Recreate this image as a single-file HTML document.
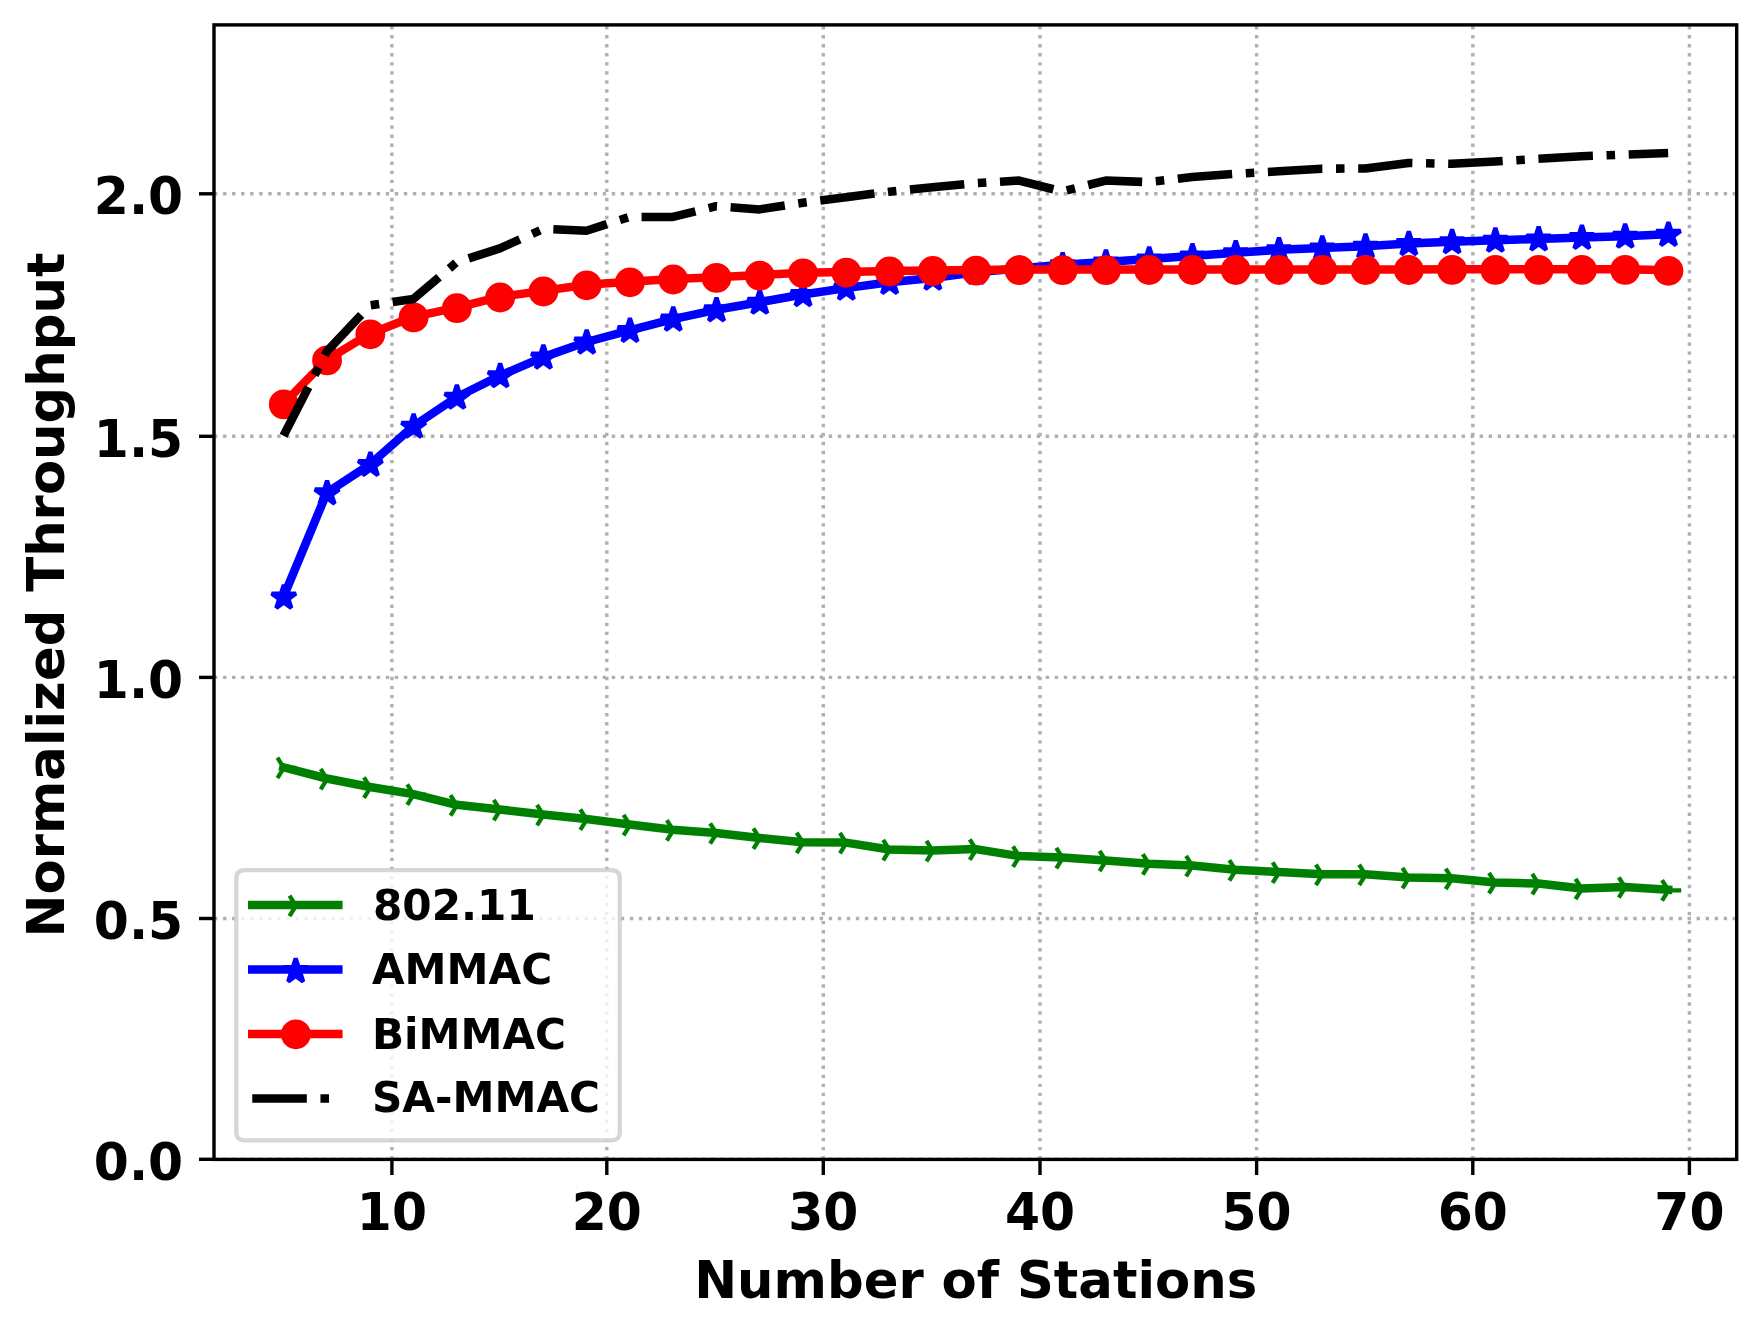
<!DOCTYPE html>
<html lang="en"><head><meta charset="utf-8"><title>Normalized Throughput vs Number of Stations</title>
<style>html,body{margin:0;padding:0;background:#fff}body{width:1761px;height:1317px;overflow:hidden}svg{display:block;filter:blur(0.45px)}text{font-family:"DejaVu Sans", "Liberation Sans", sans-serif;font-weight:bold;fill:#000}</style></head><body>
<svg width="1761" height="1317" viewBox="0 0 1761 1317">
<rect width="1761" height="1317" fill="#fff"/>
<g stroke="#b0b0b0" stroke-width="3.41" stroke-dasharray="3.41 5.63" fill="none">
<path d="M391.9 1159.4V24.9"/>
<path d="M606.8 1159.4V24.9"/>
<path d="M823.3 1159.4V24.9"/>
<path d="M1040 1159.4V24.9"/>
<path d="M1256.6 1159.4V24.9"/>
<path d="M1472.8 1159.4V24.9"/>
<path d="M1689.4 1159.4V24.9"/>
<path d="M214 193.8H1736.7"/>
<path d="M214 436.3H1736.7"/>
<path d="M214 677.4H1736.7"/>
<path d="M214 918.5H1736.7"/>
<path d="M214 1159.3H1736.7"/>
</g>
<g fill="none" stroke-linejoin="round">
<polyline points="283.5,767.3 326.77,778.5 370.04,787 413.31,794.1 456.58,804.8 499.85,809.5 543.12,814.5 586.39,819.1 629.66,824.5 672.93,829.7 716.2,832.9 759.47,838 802.74,842.3 846.01,842.6 889.28,849.5 932.55,850.45 975.82,849.1 1019.09,856.1 1062.36,857.6 1105.63,860.4 1148.9,863.8 1192.17,865.5 1235.44,869.7 1278.71,872 1321.98,874.2 1365.25,874.2 1408.52,877.6 1451.79,878.3 1495.06,882.6 1538.33,883.5 1581.6,888.4 1624.87,886.9 1668.14,889.7" stroke="#008000" stroke-width="8.53" stroke-linecap="square"/>
<path stroke="#008000" stroke-width="4.26" stroke-linecap="butt" d="M283.8 767.9L296.59 767.9M283.8 767.9L277.41 757.67M283.8 767.9L277.41 778.13M327.07 779.1L339.86 779.1M327.07 779.1L320.68 768.87M327.07 779.1L320.68 789.33M370.34 787.6L383.13 787.6M370.34 787.6L363.95 777.37M370.34 787.6L363.95 797.83M413.61 794.7L426.4 794.7M413.61 794.7L407.22 784.47M413.61 794.7L407.22 804.93M456.88 805.4L469.67 805.4M456.88 805.4L450.49 795.17M456.88 805.4L450.49 815.63M500.15 810.1L512.94 810.1M500.15 810.1L493.76 799.87M500.15 810.1L493.76 820.33M543.42 815.1L556.21 815.1M543.42 815.1L537.03 804.87M543.42 815.1L537.03 825.33M586.69 819.7L599.48 819.7M586.69 819.7L580.3 809.47M586.69 819.7L580.3 829.93M629.96 825.1L642.75 825.1M629.96 825.1L623.57 814.87M629.96 825.1L623.57 835.33M673.23 830.3L686.02 830.3M673.23 830.3L666.84 820.07M673.23 830.3L666.84 840.53M716.5 833.5L729.29 833.5M716.5 833.5L710.11 823.27M716.5 833.5L710.11 843.73M759.77 838.6L772.56 838.6M759.77 838.6L753.38 828.37M759.77 838.6L753.38 848.83M803.04 842.9L815.83 842.9M803.04 842.9L796.65 832.67M803.04 842.9L796.65 853.13M846.31 843.2L859.1 843.2M846.31 843.2L839.92 832.97M846.31 843.2L839.92 853.43M889.58 850.1L902.37 850.1M889.58 850.1L883.19 839.87M889.58 850.1L883.19 860.33M932.85 851.05L945.64 851.05M932.85 851.05L926.46 840.82M932.85 851.05L926.46 861.28M976.12 849.7L988.91 849.7M976.12 849.7L969.73 839.47M976.12 849.7L969.73 859.93M1019.39 856.7L1032.18 856.7M1019.39 856.7L1013 846.47M1019.39 856.7L1013 866.93M1062.66 858.2L1075.45 858.2M1062.66 858.2L1056.27 847.97M1062.66 858.2L1056.27 868.43M1105.93 861L1118.72 861M1105.93 861L1099.54 850.77M1105.93 861L1099.54 871.23M1149.2 864.4L1161.99 864.4M1149.2 864.4L1142.81 854.17M1149.2 864.4L1142.81 874.63M1192.47 866.1L1205.26 866.1M1192.47 866.1L1186.08 855.87M1192.47 866.1L1186.08 876.33M1235.74 870.3L1248.53 870.3M1235.74 870.3L1229.35 860.07M1235.74 870.3L1229.35 880.53M1279.01 872.6L1291.8 872.6M1279.01 872.6L1272.62 862.37M1279.01 872.6L1272.62 882.83M1322.28 874.8L1335.07 874.8M1322.28 874.8L1315.89 864.57M1322.28 874.8L1315.89 885.03M1365.55 874.8L1378.34 874.8M1365.55 874.8L1359.16 864.57M1365.55 874.8L1359.16 885.03M1408.82 878.2L1421.61 878.2M1408.82 878.2L1402.43 867.97M1408.82 878.2L1402.43 888.43M1452.09 878.9L1464.88 878.9M1452.09 878.9L1445.7 868.67M1452.09 878.9L1445.7 889.13M1495.36 883.2L1508.15 883.2M1495.36 883.2L1488.97 872.97M1495.36 883.2L1488.97 893.43M1538.63 884.1L1551.42 884.1M1538.63 884.1L1532.24 873.87M1538.63 884.1L1532.24 894.33M1581.9 889L1594.69 889M1581.9 889L1575.51 878.77M1581.9 889L1575.51 899.23M1625.17 887.5L1637.96 887.5M1625.17 887.5L1618.78 877.27M1625.17 887.5L1618.78 897.73M1668.44 890.3L1681.23 890.3M1668.44 890.3L1662.05 880.07M1668.44 890.3L1662.05 900.53"/>
<polyline points="283.5,597 326.77,492.8 370.04,464.4 413.31,426.2 456.58,397.2 499.85,375.7 543.12,357.1 586.39,342 629.66,330.4 672.93,319.1 716.2,309.8 759.47,302.2 802.74,294.5 846.01,288.1 889.28,282.3 932.55,278.1 975.82,272.3 1019.09,268.4 1062.36,264.8 1105.63,262 1148.9,259.1 1192.17,255.9 1235.44,252.8 1278.71,249.8 1321.98,248.1 1365.25,246.2 1408.52,243.5 1451.79,241.7 1495.06,240.2 1538.33,238.9 1581.6,237.4 1624.87,236.2 1668.14,234.3" stroke="#0000ff" stroke-width="8.53" stroke-linecap="square"/>
<g fill="#0000ff" stroke="#0000ff" stroke-width="4.26" stroke-linejoin="bevel">
<polygon points="283.8,584.81 286.67,593.65 295.96,593.65 288.45,599.11 291.32,607.95 283.8,602.48 276.28,607.95 279.15,599.11 271.64,593.65 280.93,593.65"/>
<polygon points="327.07,480.61 329.94,489.45 339.23,489.45 331.72,494.91 334.59,503.75 327.07,498.28 319.55,503.75 322.42,494.91 314.91,489.45 324.2,489.45"/>
<polygon points="370.34,452.21 373.21,461.05 382.5,461.05 374.99,466.51 377.86,475.35 370.34,469.88 362.82,475.35 365.69,466.51 358.18,461.05 367.47,461.05"/>
<polygon points="413.61,414.01 416.48,422.85 425.77,422.85 418.26,428.31 421.13,437.15 413.61,431.68 406.09,437.15 408.96,428.31 401.45,422.85 410.74,422.85"/>
<polygon points="456.88,385.01 459.75,393.85 469.04,393.85 461.53,399.31 464.4,408.15 456.88,402.68 449.36,408.15 452.23,399.31 444.72,393.85 454.01,393.85"/>
<polygon points="500.15,363.51 503.02,372.35 512.31,372.35 504.8,377.81 507.67,386.65 500.15,381.18 492.63,386.65 495.5,377.81 487.99,372.35 497.28,372.35"/>
<polygon points="543.42,344.91 546.29,353.75 555.58,353.75 548.07,359.21 550.94,368.05 543.42,362.58 535.9,368.05 538.77,359.21 531.26,353.75 540.55,353.75"/>
<polygon points="586.69,329.81 589.56,338.65 598.85,338.65 591.34,344.11 594.21,352.95 586.69,347.48 579.17,352.95 582.04,344.11 574.53,338.65 583.82,338.65"/>
<polygon points="629.96,318.21 632.83,327.05 642.12,327.05 634.61,332.51 637.48,341.35 629.96,335.88 622.44,341.35 625.31,332.51 617.8,327.05 627.09,327.05"/>
<polygon points="673.23,306.91 676.1,315.75 685.39,315.75 677.88,321.21 680.75,330.05 673.23,324.58 665.71,330.05 668.58,321.21 661.07,315.75 670.36,315.75"/>
<polygon points="716.5,297.61 719.37,306.45 728.66,306.45 721.15,311.91 724.02,320.75 716.5,315.28 708.98,320.75 711.85,311.91 704.34,306.45 713.63,306.45"/>
<polygon points="759.77,290.01 762.64,298.85 771.93,298.85 764.42,304.31 767.29,313.15 759.77,307.68 752.25,313.15 755.12,304.31 747.61,298.85 756.9,298.85"/>
<polygon points="803.04,282.31 805.91,291.15 815.2,291.15 807.69,296.61 810.56,305.45 803.04,299.98 795.52,305.45 798.39,296.61 790.88,291.15 800.17,291.15"/>
<polygon points="846.31,275.91 849.18,284.75 858.47,284.75 850.96,290.21 853.83,299.05 846.31,293.58 838.79,299.05 841.66,290.21 834.15,284.75 843.44,284.75"/>
<polygon points="889.58,270.11 892.45,278.95 901.74,278.95 894.23,284.41 897.1,293.25 889.58,287.78 882.06,293.25 884.93,284.41 877.42,278.95 886.71,278.95"/>
<polygon points="932.85,265.91 935.72,274.75 945.01,274.75 937.5,280.21 940.37,289.05 932.85,283.58 925.33,289.05 928.2,280.21 920.69,274.75 929.98,274.75"/>
<polygon points="976.12,260.11 978.99,268.95 988.28,268.95 980.77,274.41 983.64,283.25 976.12,277.78 968.6,283.25 971.47,274.41 963.96,268.95 973.25,268.95"/>
<polygon points="1019.39,256.21 1022.26,265.05 1031.55,265.05 1024.04,270.51 1026.91,279.35 1019.39,273.88 1011.87,279.35 1014.74,270.51 1007.23,265.05 1016.52,265.05"/>
<polygon points="1062.66,252.61 1065.53,261.45 1074.82,261.45 1067.31,266.91 1070.18,275.75 1062.66,270.28 1055.14,275.75 1058.01,266.91 1050.5,261.45 1059.79,261.45"/>
<polygon points="1105.93,249.81 1108.8,258.65 1118.09,258.65 1110.58,264.11 1113.45,272.95 1105.93,267.48 1098.41,272.95 1101.28,264.11 1093.77,258.65 1103.06,258.65"/>
<polygon points="1149.2,246.91 1152.07,255.75 1161.36,255.75 1153.85,261.21 1156.72,270.05 1149.2,264.58 1141.68,270.05 1144.55,261.21 1137.04,255.75 1146.33,255.75"/>
<polygon points="1192.47,243.71 1195.34,252.55 1204.63,252.55 1197.12,258.01 1199.99,266.85 1192.47,261.38 1184.95,266.85 1187.82,258.01 1180.31,252.55 1189.6,252.55"/>
<polygon points="1235.74,240.61 1238.61,249.45 1247.9,249.45 1240.39,254.91 1243.26,263.75 1235.74,258.28 1228.22,263.75 1231.09,254.91 1223.58,249.45 1232.87,249.45"/>
<polygon points="1279.01,237.61 1281.88,246.45 1291.17,246.45 1283.66,251.91 1286.53,260.75 1279.01,255.28 1271.49,260.75 1274.36,251.91 1266.85,246.45 1276.14,246.45"/>
<polygon points="1322.28,235.91 1325.15,244.75 1334.44,244.75 1326.93,250.21 1329.8,259.05 1322.28,253.58 1314.76,259.05 1317.63,250.21 1310.12,244.75 1319.41,244.75"/>
<polygon points="1365.55,234.01 1368.42,242.85 1377.71,242.85 1370.2,248.31 1373.07,257.15 1365.55,251.68 1358.03,257.15 1360.9,248.31 1353.39,242.85 1362.68,242.85"/>
<polygon points="1408.82,231.31 1411.69,240.15 1420.98,240.15 1413.47,245.61 1416.34,254.45 1408.82,248.98 1401.3,254.45 1404.17,245.61 1396.66,240.15 1405.95,240.15"/>
<polygon points="1452.09,229.51 1454.96,238.35 1464.25,238.35 1456.74,243.81 1459.61,252.65 1452.09,247.18 1444.57,252.65 1447.44,243.81 1439.93,238.35 1449.22,238.35"/>
<polygon points="1495.36,228.01 1498.23,236.85 1507.52,236.85 1500.01,242.31 1502.88,251.15 1495.36,245.68 1487.84,251.15 1490.71,242.31 1483.2,236.85 1492.49,236.85"/>
<polygon points="1538.63,226.71 1541.5,235.55 1550.79,235.55 1543.28,241.01 1546.15,249.85 1538.63,244.38 1531.11,249.85 1533.98,241.01 1526.47,235.55 1535.76,235.55"/>
<polygon points="1581.9,225.21 1584.77,234.05 1594.06,234.05 1586.55,239.51 1589.42,248.35 1581.9,242.88 1574.38,248.35 1577.25,239.51 1569.74,234.05 1579.03,234.05"/>
<polygon points="1625.17,224.01 1628.04,232.85 1637.33,232.85 1629.82,238.31 1632.69,247.15 1625.17,241.68 1617.65,247.15 1620.52,238.31 1613.01,232.85 1622.3,232.85"/>
<polygon points="1668.44,222.11 1671.31,230.95 1680.6,230.95 1673.09,236.41 1675.96,245.25 1668.44,239.78 1660.92,245.25 1663.79,236.41 1656.28,230.95 1665.57,230.95"/>
</g>
<polyline points="283.5,403.8 326.77,359.8 370.04,333.7 413.31,316.8 456.58,307.6 499.85,296.9 543.12,290.9 586.39,284.7 629.66,281.7 672.93,278.9 716.2,277.3 759.47,275.1 802.74,272.7 846.01,272 889.28,270.9 932.55,270.4 975.82,270 1019.09,269.5 1062.36,269.6 1105.63,269.6 1148.9,269.4 1192.17,269.4 1235.44,269.4 1278.71,269.4 1321.98,269.4 1365.25,269.4 1408.52,269.4 1451.79,269.3 1495.06,269.3 1538.33,269.3 1581.6,269.3 1624.87,269.3 1668.14,270.2" stroke="#ff0000" stroke-width="8.53" stroke-linecap="square"/>
<g fill="#ff0000" stroke="none">
<circle cx="283.8" cy="404.4" r="14.92"/>
<circle cx="327.07" cy="360.4" r="14.92"/>
<circle cx="370.34" cy="334.3" r="14.92"/>
<circle cx="413.61" cy="317.4" r="14.92"/>
<circle cx="456.88" cy="308.2" r="14.92"/>
<circle cx="500.15" cy="297.5" r="14.92"/>
<circle cx="543.42" cy="291.5" r="14.92"/>
<circle cx="586.69" cy="285.3" r="14.92"/>
<circle cx="629.96" cy="282.3" r="14.92"/>
<circle cx="673.23" cy="279.5" r="14.92"/>
<circle cx="716.5" cy="277.9" r="14.92"/>
<circle cx="759.77" cy="275.7" r="14.92"/>
<circle cx="803.04" cy="273.3" r="14.92"/>
<circle cx="846.31" cy="272.6" r="14.92"/>
<circle cx="889.58" cy="271.5" r="14.92"/>
<circle cx="932.85" cy="271" r="14.92"/>
<circle cx="976.12" cy="270.6" r="14.92"/>
<circle cx="1019.39" cy="270.1" r="14.92"/>
<circle cx="1062.66" cy="270.2" r="14.92"/>
<circle cx="1105.93" cy="270.2" r="14.92"/>
<circle cx="1149.2" cy="270" r="14.92"/>
<circle cx="1192.47" cy="270" r="14.92"/>
<circle cx="1235.74" cy="270" r="14.92"/>
<circle cx="1279.01" cy="270" r="14.92"/>
<circle cx="1322.28" cy="270" r="14.92"/>
<circle cx="1365.55" cy="270" r="14.92"/>
<circle cx="1408.82" cy="270" r="14.92"/>
<circle cx="1452.09" cy="269.9" r="14.92"/>
<circle cx="1495.36" cy="269.9" r="14.92"/>
<circle cx="1538.63" cy="269.9" r="14.92"/>
<circle cx="1581.9" cy="269.9" r="14.92"/>
<circle cx="1625.17" cy="269.9" r="14.92"/>
<circle cx="1668.44" cy="270.8" r="14.92"/>
</g>
<polyline points="283.5,435.7 326.77,351.5 370.04,305.4 413.31,299 456.58,262.3 499.85,248.4 543.12,228.9 586.39,230.7 629.66,216.9 672.93,216.9 716.2,206.2 759.47,209.4 802.74,202.8 846.01,197.2 889.28,191.7 932.55,187.2 975.82,183.1 1019.09,180.6 1062.36,191.5 1105.63,180.6 1148.9,182.1 1192.17,177.1 1235.44,173.8 1278.71,171.3 1321.98,168.7 1365.25,168.5 1408.52,162.9 1451.79,163.8 1495.06,161.6 1538.33,158.8 1581.6,156.2 1624.87,154.7 1668.14,153" stroke="#000" stroke-width="8.53" stroke-dasharray="54.57 13.64 8.53 13.64" stroke-linecap="butt"/>
</g>
<g stroke="#000" stroke-width="3.41" fill="none" stroke-linecap="butt">
<rect x="214" y="24.9" width="1522.7" height="1134.5" stroke-linejoin="miter"/>
<path d="M391.9 1159.4v15.6"/>
<path d="M606.8 1159.4v15.6"/>
<path d="M823.3 1159.4v15.6"/>
<path d="M1040 1159.4v15.6"/>
<path d="M1256.6 1159.4v15.6"/>
<path d="M1472.8 1159.4v15.6"/>
<path d="M1689.4 1159.4v15.6"/>
<path d="M214 193.8h-15"/>
<path d="M214 436.3h-15"/>
<path d="M214 677.4h-15"/>
<path d="M214 918.5h-15"/>
<path d="M214 1159.3h-15"/>
</g>
<g font-size="51">
<text transform="translate(391.9 1229.7) scale(0.988 1)" text-anchor="middle">10</text>
<text transform="translate(606.8 1229.7) scale(0.988 1)" text-anchor="middle">20</text>
<text transform="translate(823.3 1229.7) scale(0.988 1)" text-anchor="middle">30</text>
<text transform="translate(1040 1229.7) scale(0.988 1)" text-anchor="middle">40</text>
<text transform="translate(1256.6 1229.7) scale(0.988 1)" text-anchor="middle">50</text>
<text transform="translate(1472.8 1229.7) scale(0.988 1)" text-anchor="middle">60</text>
<text transform="translate(1689.4 1229.7) scale(0.988 1)" text-anchor="middle">70</text>
<text transform="translate(183.1 214) scale(0.988 1)" text-anchor="end">2.0</text>
<text transform="translate(183.1 456.5) scale(0.988 1)" text-anchor="end">1.5</text>
<text transform="translate(183.1 697.6) scale(0.988 1)" text-anchor="end">1.0</text>
<text transform="translate(183.1 938.7) scale(0.988 1)" text-anchor="end">0.5</text>
<text transform="translate(183.1 1179.5) scale(0.988 1)" text-anchor="end">0.0</text>
<text x="975.7" y="1297.6" text-anchor="middle" font-size="51.25">Number of Stations</text>
<text transform="translate(63.6 595.0) rotate(-90)" text-anchor="middle" font-size="51.25">Normalized Throughput</text>
</g>
<path d="M244.83 870.1H611.27Q619.8 870.1 619.8 878.63V1131.87Q619.8 1140.4 611.27 1140.4H244.83Q236.3 1140.4 236.3 1131.87V878.63Q236.3 870.1 244.83 870.1Z" fill="#fff" fill-opacity="0.8" stroke="#cccccc" stroke-opacity="0.8" stroke-width="4.26"/>
<g fill="none">
<path d="M252.25 905H338.31" stroke="#008000" stroke-width="8.53" stroke-linecap="square"/>
<path d="M295.88 905.8L308.67 905.8M295.88 905.8L289.49 895.57M295.88 905.8L289.49 916.03" stroke="#008000" stroke-width="4.26"/>
<path d="M252.25 969.4H338.31" stroke="#0000ff" stroke-width="8.53" stroke-linecap="square"/>
<polygon points="295.68,958.41 298.55,967.25 307.85,967.25 300.33,972.71 303.2,981.55 295.68,976.08 288.16,981.55 291.04,972.71 283.52,967.25 292.81,967.25" fill="#0000ff" stroke="#0000ff" stroke-width="4.26" stroke-linejoin="bevel"/>
<path d="M252.25 1034H338.31" stroke="#ff0000" stroke-width="8.53" stroke-linecap="square"/>
<circle cx="295.88" cy="1034.3" r="14.92" fill="#ff0000"/>
<path d="M252.25 1098.4H338.31" stroke="#000" stroke-width="8.53" stroke-dasharray="54.57 13.64 8.53 13.64"/>
</g>
<g font-size="42.7">
<text transform="translate(373.02 919.9) scale(0.988 1)">802.11</text>
<text transform="translate(371.92 984.1) scale(0.988 1)">AMMAC</text>
<text transform="translate(371.92 1048.8) scale(0.988 1)">BiMMAC</text>
<text transform="translate(371.92 1112) scale(0.988 1)">SA-MMAC</text>
</g>
</svg></body></html>
